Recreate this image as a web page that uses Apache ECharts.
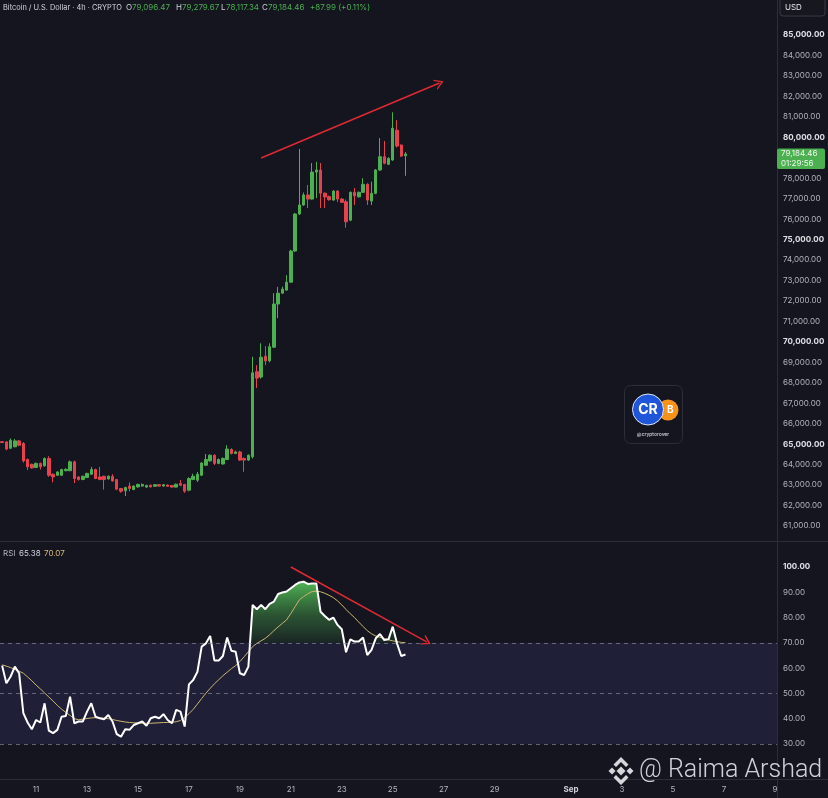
<!DOCTYPE html>
<html>
<head>
<meta charset="utf-8">
<script src="https://cdn.jsdelivr.net/npm/echarts@6/dist/echarts.min.js"></script>
<style>
html,body{margin:0;padding:0;background:#14151f;}
#chart{width:828px;height:798px;}
</style>
</head>
<body>
<div id="chart"></div>
<script>
// ---------- DATA (4h candles, BTC/USD) ----------
const openP = [65120,65110,64800,64870,65160,65030,64250,64010,63860,64060,
  63940,64300,63530,63480,63480,63700,63700,64135,63400,63270,
  63370,63530,63760,63400,63430,63300,63430,63270,62830,62720,
  62950,62780,62910,62950,62900,62990,62940,63020,62950,63000,
  62980,62900,63080,63030,62750,63270,63240,63480,63970,64180,
  64460,64060,64030,64250,64740,64540,64620,64300,64220,64380,
  68540,68280,69300,69070,69740,71850,72380,72530,72920,74440,
  76250,76690,77180,76980,78300,78400,77270,77100,76930,77370,
  76980,76850,75950,77310,77090,77310,77700,76880,77260,78400,
  79050,78680,78890,80350,79620,79096.47];
const closeP = [65080,64760,65190,65160,64950,64180,63890,63840,64060,63890,
  64300,63480,63400,63640,63760,63770,64135,63320,63270,63430,
  63570,63760,63320,63270,63270,63430,63200,62800,62700,62880,
  62830,62950,63030,63030,62980,62910,63020,62950,63020,62940,
  62900,63040,62990,62700,63320,63430,63530,64080,64250,64460,
  64060,64250,64300,64760,64540,64620,64220,64220,64460,68490,
  68230,69250,69070,69760,71850,72380,72580,72920,74440,76250,
  76690,77180,76980,78300,78400,77270,77080,76950,77370,76980,
  76820,75870,77310,77140,77310,77700,76930,77260,78400,79050,
  78730,78970,80440,79570,79080,79184.46];
const lowP = [65050,64700,64760,64850,64900,64100,63730,63800,63830,63760,
  63900,63400,63140,63450,63450,63680,63680,63100,63220,63240,
  63340,63500,63290,63240,62780,63270,63170,62750,62620,62460,
  62700,62750,62880,62920,62870,62880,62920,62920,62930,62910,
  62870,62880,62960,62620,62700,63240,63150,63440,63930,64150,
  63980,64020,64000,64220,64500,64510,64180,63650,64180,64300,
  67740,68200,68860,69000,69700,71160,72350,72500,72880,74400,
  76200,76650,76540,76950,77030,76540,76540,76900,76900,76830,
  76790,75580,75900,76690,77050,77280,76690,76690,77220,78350,
  78680,78640,78850,79500,79040,78117.34];
const highP = [65150,65150,65280,65250,65200,65100,64300,64050,64100,64100,
  64350,64410,63560,63680,63800,63820,64200,64200,63420,63460,
  63600,63890,63800,63890,63460,63480,63530,63300,62860,62920,
  63130,62980,63070,63080,63020,63030,63050,63050,63050,63030,
  63010,63070,63250,63060,63380,63560,63640,64120,64520,64500,
  64500,64300,64350,64950,64800,64680,64680,64350,64500,69270,
  68860,69930,69790,69930,72380,72690,72700,73260,74500,76300,
  79430,77300,77670,78740,78800,78740,77300,77150,77420,77420,
  77030,76960,77350,77520,77350,78000,77750,77830,78450,79960,
  79820,79020,81220,80840,79650,79279.67];
const rsi = [61,54.0,56.7,60.6,58.0,42.2,38.5,35.8,39.5,38.5,
  46.1,35.3,34.3,35.6,40.8,41.1,48.7,38.2,38.9,38.9,
  42.8,46.1,40.8,40.2,39.8,41.5,38.9,33.9,32.9,35.8,
  35.6,37.5,38.2,38.9,37.2,40.2,40.8,40.2,41.8,39.5,
  38.2,43.5,42.8,36.9,53.6,55.3,58.6,68.5,69.8,72.7,
  63.0,63.0,64.8,72.1,66.9,66.5,58.0,57.3,60.6,85.0,
  83.3,85.0,83.3,85.4,86.3,89.3,89.9,90.3,91.6,92.9,
  93.9,94.2,93.3,93.5,93.5,82.3,80.6,79.1,80.0,77.1,
  75.4,66.3,71.4,70.5,70.5,72.1,65.2,67.2,71.8,73.5,
  71.1,71.4,76.4,69.8,64.8,65.38];
const rsiMA = [61.3,60.8,60.2,59.5,58.8,58.0,56.5,55.0,53.3,51.8,
  50.2,48.6,47.0,45.3,43.8,42.5,41.3,40.0,39.6,39.8,
  40.1,40.3,40.4,40.3,40.2,40.0,39.7,39.3,39.0,38.7,
  38.5,38.4,38.3,38.2,38.2,38.2,38.3,38.4,38.5,38.5,
  38.6,38.8,39.3,40.5,42.0,43.7,45.8,48.0,50.1,52.0,
  53.8,55.4,57.0,58.4,59.8,61.0,62.6,64.5,66.5,68.5,
  69.8,70.8,71.8,73.2,74.8,76.3,77.7,79.1,81.6,84.3,
  87.0,88.3,89.4,90.3,90.4,90.2,89.6,88.8,87.9,86.6,
  85.0,83.2,81.5,80.0,78.2,76.5,74.8,73.6,72.7,72.2,
  71.7,71.2,70.8,70.5,70.2,70.07];
// x-axis tick labels (day boundaries)
const tickDays   = ['08-11','08-13','08-15','08-17','08-19','08-21','08-23','08-25','08-27','08-29','09-01','09-03','09-05','09-07','09-09'];
const tickLabels = ['11','13','15','17','19','21','23','25','27','29','Sep','3','5','7','9'];
// trend annotations [categoryIndex, value]
const priceTrend = [[61, 78985], [103, 82653]];
const rsiTrend   = [[68, 100], [100, 70.4]];
const changeText = '+87.99 (+0.11%)';
const timerText = '01:29:56';

// ---------- categories: 4h slots ----------
const pad = n => (n < 10 ? '0' : '') + n;
const slotCount = 183;
const categories = [];
const t0 = Date.UTC(2024, 7, 9, 16);
for (let i = 0; i < slotCount; i++) {
  const d = new Date(t0 + i * 4 * 3600 * 1000);
  categories.push(pad(d.getUTCMonth() + 1) + '-' + pad(d.getUTCDate()) + ' ' + pad(d.getUTCHours()) + ':00');
}
const labelMap = {};
tickDays.forEach((d, i) => { labelMap[d + ' 00:00'] = tickLabels[i]; });

const candles = openP.map((o, i) => [o, closeP[i], lowP[i], highP[i]]);
const obFill = rsi.map(v => Math.max(v, 70));

const GREEN = '#4caf50', RED = '#e5424d', TREND = '#dc2a33';
const FONT = 'Inter, "Noto Sans", sans-serif';
const fmtPrice = v => v.toLocaleString('en-US', {minimumFractionDigits: 2, maximumFractionDigits: 2});
const last = openP.length - 1;
const chevron = 'path://M0,10 L5,0 L10,10 L8.6,10 L5,3 L1.4,10 Z';

const chart = echarts.init(document.getElementById('chart'));
const txt = (x, y, text, fill, font, align, z) => ({
  type: 'text', x: x, y: y, z: z || 50,
  style: {text: text, fill: fill, font: font || ('8px ' + FONT), align: align || 'left', verticalAlign: 'middle'}
});

chart.setOption({
  backgroundColor: '#14151f',
  animation: false,
  textStyle: {fontFamily: FONT},
  grid: [
    {left: 0, right: 51, top: 14.54, height: 531.9},
    {left: 0, right: 51, top: 541.7, height: 227.6}
  ],
  xAxis: [
    {type: 'category', gridIndex: 0, data: categories, boundaryGap: true, show: false},
    {type: 'category', gridIndex: 1, data: categories, boundaryGap: true, offset: 10,
      axisLine: {show: false}, axisTick: {show: false}, splitLine: {show: false},
      axisLabel: {
        interval: (idx, val) => labelMap[val] !== undefined,
        formatter: val => { const l = labelMap[val] || ''; return l === 'Sep' ? '{b|Sep}' : l; },
        color: '#b2b5be', fontSize: 8, margin: 6, fontFamily: FONT,
        rich: {b: {fontWeight: 'bold', color: '#d1d4dc', fontSize: 8, fontFamily: FONT}}
      }}
  ],
  yAxis: [
    {type: 'value', gridIndex: 0, position: 'right', min: 60000, max: 86000, interval: 1000,
      splitLine: {show: false}, axisLine: {show: false}, axisTick: {show: false},
      axisLabel: {showMinLabel: false, showMaxLabel: false, margin: 6, color: '#b2b5be', fontSize: 8, fontFamily: FONT,
        formatter: v => v % 5000 === 0 ? '{b|' + fmtPrice(v) + '}' : fmtPrice(v),
        rich: {b: {fontWeight: 'bold', color: '#dfe1e6', fontSize: 8, fontFamily: FONT}}}},
    {type: 'value', gridIndex: 1, position: 'right', min: 20, max: 110, interval: 10,
      splitLine: {show: false}, axisLine: {show: false}, axisTick: {show: false},
      axisLabel: {showMinLabel: false, showMaxLabel: false, margin: 6, color: '#b2b5be', fontSize: 8, fontFamily: FONT,
        formatter: v => v === 100 ? '{b|' + v.toFixed(2) + '}' : v.toFixed(2),
        rich: {b: {fontWeight: 'bold', color: '#dfe1e6', fontSize: 8, fontFamily: FONT}}}}
  ],
  series: [
    {
      type: 'candlestick', xAxisIndex: 0, yAxisIndex: 0, data: candles, barWidth: '70%',
      itemStyle: {color: GREEN, color0: RED, borderColor: GREEN, borderColor0: RED, borderWidth: 1},
      markLine: {
        silent: true, symbol: ['none', chevron], symbolSize: [11, 9],
        label: {show: false},
        lineStyle: {color: TREND, width: 1.6, type: 'solid'},
        data: [[{coord: priceTrend[0]}, {coord: priceTrend[1]}]]
      }
    },
    {
      name: 'ob', type: 'line', xAxisIndex: 1, yAxisIndex: 1, data: obFill, symbol: 'none', z: 1,
      lineStyle: {width: 0, opacity: 0},
      areaStyle: {origin: 70, opacity: 1, color: new echarts.graphic.LinearGradient(0, 0, 0, 1, [
        {offset: 0, color: 'rgba(84,190,88,0.95)'}, {offset: 0.55, color: 'rgba(70,160,74,0.45)'}, {offset: 1, color: 'rgba(76,175,80,0.1)'}])},
      markArea: {silent: true, itemStyle: {color: 'rgba(110,110,220,0.13)'}, data: [[{yAxis: 30}, {yAxis: 70}]]},
      markLine: {silent: true, symbol: 'none', label: {show: false},
        lineStyle: {color: 'rgba(150,153,165,0.6)', width: 1, type: [4, 4]},
        data: [{yAxis: 70}, {yAxis: 50}, {yAxis: 30}]}
    },
    {
      name: 'ma', type: 'line', xAxisIndex: 1, yAxisIndex: 1, data: rsiMA, symbol: 'none', z: 3,
      lineStyle: {color: '#cdb571', width: 1}
    },
    {
      name: 'rsi', type: 'line', xAxisIndex: 1, yAxisIndex: 1, data: rsi, symbol: 'none', z: 4,
      lineStyle: {color: '#ffffff', width: 2},
      markLine: {
        silent: true, symbol: ['none', chevron], symbolSize: [11, 9],
        label: {show: false},
        lineStyle: {color: TREND, width: 1.6, type: 'solid'},
        data: [[{coord: rsiTrend[0]}, {coord: rsiTrend[1]}]]
      }
    }
  ],
  graphic: {elements: [
    // separators
    {type: 'line', z: 40, shape: {x1: 777.5, y1: 0, x2: 777.5, y2: 798}, style: {stroke: '#2a2e39', lineWidth: 1}},
    {type: 'line', z: 40, shape: {x1: 0, y1: 541.5, x2: 828, y2: 541.5}, style: {stroke: '#2a2e39', lineWidth: 1}},
    {type: 'line', z: 40, shape: {x1: 0, y1: 779.5, x2: 828, y2: 779.5}, style: {stroke: '#2a2e39', lineWidth: 1}},
    // header
    txt(3, 8, 'Bitcoin / U.S. Dollar · 4h · CRYPTO', '#d1d4dc', '7.4px ' + FONT),
    txt(126, 8, 'O', '#d1d4dc'), txt(132, 8, fmtPrice(openP[last]), GREEN),
    txt(176, 8, 'H', '#d1d4dc'), txt(182, 8, fmtPrice(highP[last]), GREEN),
    txt(221, 8, 'L', '#d1d4dc'), txt(226, 8, fmtPrice(lowP[last]), GREEN),
    txt(262, 8, 'C', '#d1d4dc'), txt(268, 8, fmtPrice(closeP[last]), GREEN),
    txt(310, 8, changeText, GREEN),
    // RSI header
    txt(3, 554, 'RSI', '#b2b5be'),
    txt(19, 554, rsi[last].toFixed(2), '#d1d4dc'),
    txt(44, 554, rsiMA[last].toFixed(2), '#d9bc7a'),
    // USD box
    {type: 'rect', z: 45, shape: {x: 780, y: -3, width: 45, height: 19, r: 3}, style: {fill: '#16171f', stroke: '#363a45', lineWidth: 1}},
    txt(785, 7.5, 'USD', '#e6e7ea'),
    // last price label
    {type: 'rect', z: 45, shape: {x: 777, y: 148.5, width: 48, height: 20.5, r: 2}, style: {fill: GREEN}},
    txt(781, 154, fmtPrice(closeP[last]), '#f0f8f0'),
    txt(781, 163.5, timerText, '#f0f8f0'),
    // cryptorover logo
    {type: 'rect', z: 45, shape: {x: 624.5, y: 385.5, width: 58, height: 58, r: 6}, style: {fill: '#14151f', stroke: '#2a2e39', lineWidth: 1}},
    {type: 'circle', z: 46, shape: {cx: 668, cy: 410, r: 10.5}, style: {fill: '#f7931a'}},
    txt(667, 410, 'B', '#ffffff', 'bold 10px ' + FONT, 'left', 47),
    {type: 'circle', z: 48, shape: {cx: 648, cy: 409.5, r: 15.5}, style: {fill: '#1f55d8', stroke: '#dfe6f7', lineWidth: 1}},
    txt(648, 410, 'CR', '#ffffff', 'bold 14px ' + FONT, 'center', 49),
    txt(653, 434, '@cryptorover', '#e6e7ea', '5px ' + FONT, 'center', 49),
    // watermark
    {type: 'polygon', z: 60, shape: {points: [[621, 766.5], [625.5, 771], [621, 775.5], [616.5, 771]]}, style: {fill: 'rgba(235,235,240,0.9)'}},
    {type: 'polygon', z: 60, shape: {points: [[612, 767.5], [615.5, 771], [612, 774.5], [608.5, 771]]}, style: {fill: 'rgba(235,235,240,0.9)'}},
    {type: 'polygon', z: 60, shape: {points: [[630, 767.5], [633.5, 771], [630, 774.5], [626.5, 771]]}, style: {fill: 'rgba(235,235,240,0.9)'}},
    {type: 'polygon', z: 60, shape: {points: [[621, 757], [628.5, 764.5], [626, 767], [621, 762], [616, 767], [613.5, 764.5]]}, style: {fill: 'rgba(235,235,240,0.9)'}},
    {type: 'polygon', z: 60, shape: {points: [[621, 785], [628.5, 777.5], [626, 775], [621, 780], [616, 775], [613.5, 777.5]]}, style: {fill: 'rgba(235,235,240,0.9)'}},
    txt(639, 771, '@ Raima Arshad', 'rgba(235,235,240,0.88)', '300 25px Roboto, ' + FONT, 'left', 60)
  ]}
});
</script>
</body>
</html>
